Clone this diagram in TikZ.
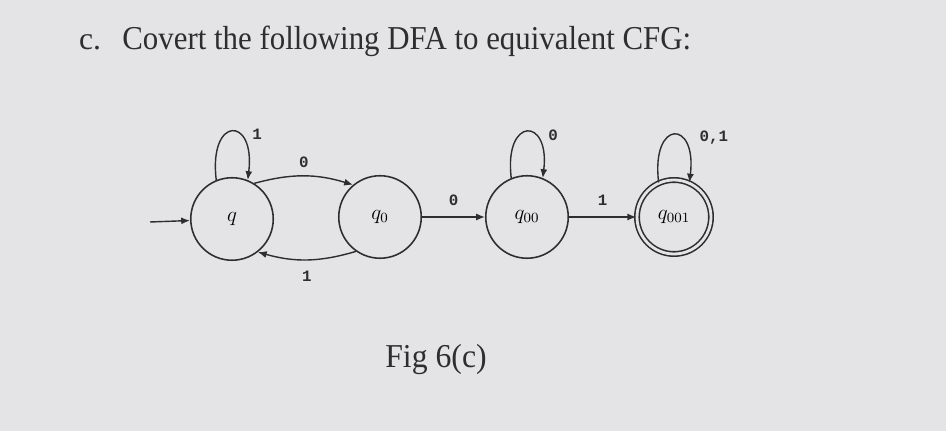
\documentclass[tikz,border=0pt]{standalone}
\usepackage{fontspec}
\setmainfont{Liberation Serif}
\newfontfamily\lblfont{Liberation Mono}
\usetikzlibrary{arrows.meta}
\definecolor{paper}{HTML}{E4E4E7}
\definecolor{ink}{HTML}{2E2E30}
\begin{document}
\begin{tikzpicture}[x=0.02cm,y=-0.02cm,
  state/.style={circle,draw=ink,line width=0.9pt,minimum size=1.65cm,inner sep=0pt,font=\large},
  accstate/.style={state,double=paper,double distance=1.6pt,minimum size=1.48cm},
  edge/.style={draw=ink,line width=0.8pt,-{Latex[length=5pt,width=4pt]}},
  lbl/.style={font=\lblfont\bfseries\small,text=ink}]
\fill[paper] (0,0) rectangle (946,431);
\useasboundingbox (0,0) rectangle (946,431);
\node[anchor=base west,font=\fontsize{18}{20}\selectfont,text=ink] (c) at (73,50) {c.};
\node[anchor=base west,font=\fontsize{19}{22}\selectfont,text=ink,xscale=0.925,inner sep=0pt] (title) at (122,50) {Covert the following DFA to equivalent CFG:};
\node[state] (q) at (232,219) {$q$};
\node[state] (q0) at (380,217) {$q_0$};
\node[state] (q00) at (527,217) {$q_{00}$};
\node[accstate] (q001) at (674,217) {$q_{001}$};
\coordinate (start) at (150,222);
\draw[edge] (start) -- (q);
\draw[edge] (q.58) to[bend left=16] node[lbl,above=1pt] {0} (q0.130);
\draw[edge] (q0.-125) to[bend left=16] node[lbl,below=3pt] {1} (q.-52);
\draw[edge] (q0) -- node[lbl,above=3pt] {0} (q00);
\draw[edge] (q00) -- node[lbl,above=3pt] {1} (q001);
\draw[edge] (q.112) .. controls +(-97:65) and +(-83:65) .. node[lbl,pos=0.62,right=4pt] {1} (q.68);
\draw[edge] (q00.112) .. controls +(-97:62) and +(-83:62) .. node[lbl,pos=0.64,right=4pt] {0} (q00.68);
\draw[edge] (q001.114) .. controls +(-97:64) and +(-83:64) .. node[lbl,pos=0.62,right=7pt] {0,1} (q001.66);
\node[anchor=base,font=\fontsize{19}{22}\selectfont,text=ink,xscale=0.95] (fig) at (436,368) {Fig 6(c)};
\end{tikzpicture}
\end{document}
